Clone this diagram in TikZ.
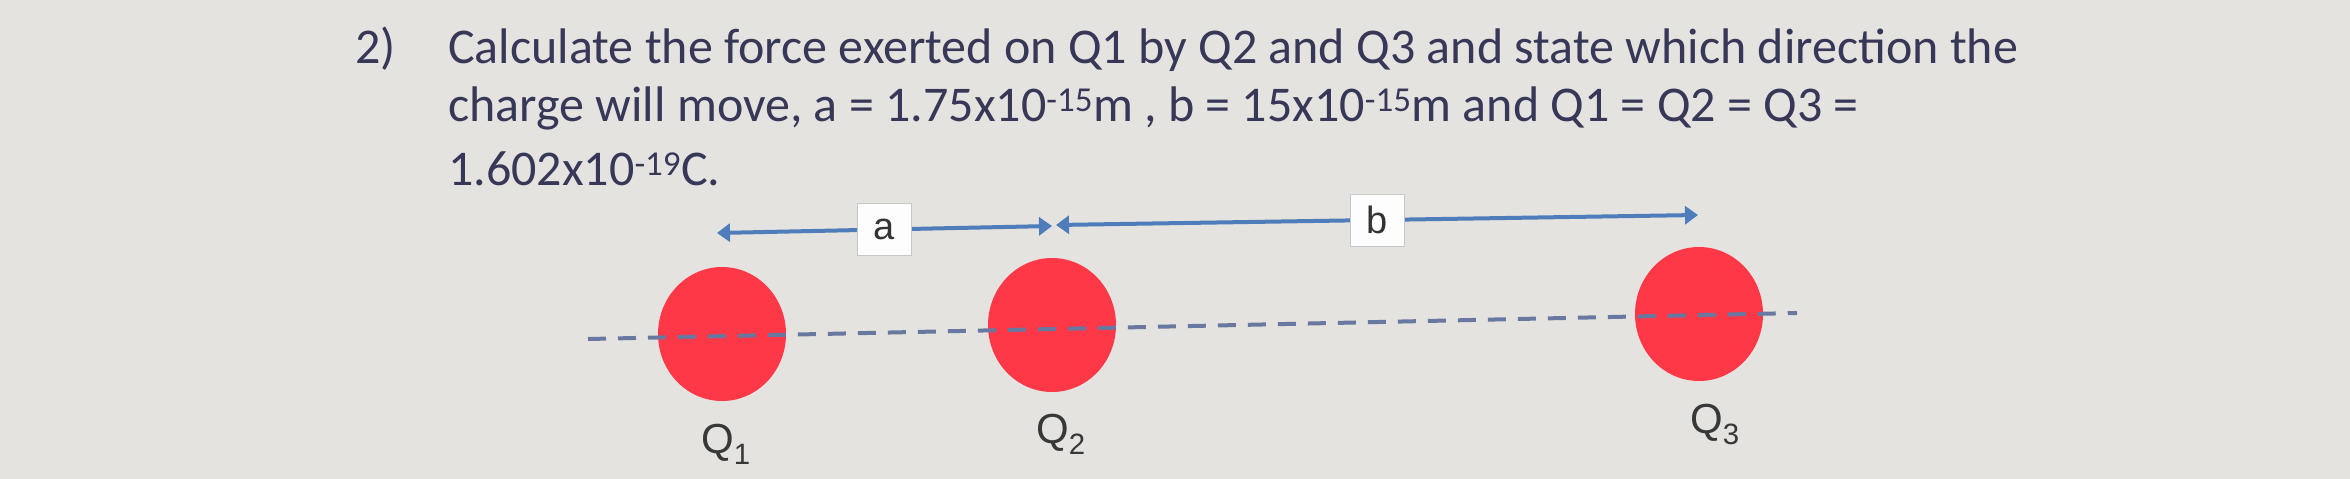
\documentclass[tikz,border=0pt]{standalone}
\usepackage{fontspec}
\setmainfont{Carlito}
\newfontfamily\labelfont{Liberation Sans}
\usetikzlibrary{shapes.geometric,arrows.meta}

\definecolor{paper}{RGB}{228,227,223}
\definecolor{inkgrey}{RGB}{55,55,88}
\definecolor{chargered}{RGB}{255,56,72}
\definecolor{arrowblue}{RGB}{79,124,186}
\definecolor{axisgrey}{RGB}{104,120,160}

\def\chargeWidth{128pt}
\def\chargeHeight{134pt}

\tikzset{
  titletext/.style={anchor=base west, inner sep=0pt, text=inkgrey,
    font=\fontsize{50}{60}\selectfont},
  charge/.style={ellipse, fill=chargered, inner sep=0pt,
    minimum width=\chargeWidth, minimum height=\chargeHeight},
  qlabel/.style={anchor=base, inner sep=0pt, text=black!78,
    font=\labelfont\fontsize{42}{50}\selectfont},
  lblbox/.style={draw=black!22, fill=white!93!paper, line width=1pt,
    minimum width=54pt, minimum height=52pt, inner sep=0pt, text=black!80,
    font=\labelfont\fontsize{38}{44}\selectfont},
  dimarrow/.style={line width=4pt, draw=arrowblue,
    {Triangle[length=13pt,width=18pt]}-{Triangle[length=13pt,width=18pt]}},
  axisline/.style={line width=4pt, draw=axisgrey, dash pattern=on 18pt off 12pt}
}

\begin{document}
\begin{tikzpicture}[x=1pt, y=-1pt]
  \path[use as bounding box, fill=paper] (0,0) rectangle (2350,479);

  %% question text
  \node[titletext] (qnum) at (355,63) {2)};
  \node[titletext] (line1) at (448,63)
    {Calculate the force exerted on Q1 by Q2 and Q3 and state which direction the};
  \node[titletext] (line2) at (448,121)
    {charge will move, a = 1.75x10\textsuperscript{-15}m , b = 15x10\textsuperscript{-15}m and Q1 = Q2 = Q3 =};
  \node[titletext] (line3) at (448,185) {1.602x10\textsuperscript{-19}C.};

  %% charges
  \node[charge] (q1) at (722,334) {};
  \node[charge] (q2) at (1052,325) {};
  \node[charge] (q3) at (1699,314) {};

  %% axis through the charges
  \coordinate (axisL) at (588,339);
  \coordinate (axisR) at (1797,313);
  \draw[axisline] (axisL) -- (axisR);

  %% distances
  \coordinate (aL) at (717,233);
  \coordinate (aR) at (1052,226);
  \coordinate (bL) at (1056,225);
  \coordinate (bR) at (1698,215);
  \draw[dimarrow] (aL) -- node[lblbox] (alabel) {a} (aR);
  \draw[dimarrow] (bL) -- node[lblbox] (blabel) {b} (bR);

  %% charge names
  \node[qlabel] (q1name) at (726,453) {Q\textsubscript{1}};
  \node[qlabel] (q2name) at (1061,443) {Q\textsubscript{2}};
  \node[qlabel] (q3name) at (1715,433) {Q\textsubscript{3}};
\end{tikzpicture}
\end{document}
